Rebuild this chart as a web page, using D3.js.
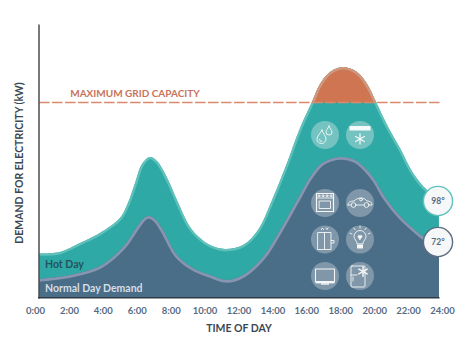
<!DOCTYPE html>
<html><head><meta charset="utf-8">
<script src="https://cdnjs.cloudflare.com/ajax/libs/d3/7.8.5/d3.min.js"></script>
<style>html,body{margin:0;padding:0;background:#fff}svg{display:block}text{font-family:Lato,"Open Sans",sans-serif}</style>
</head><body><svg id="c" width="474" height="355"></svg>
<script>
const tickLabels=["0:00","2:00","4:00","6:00","8:00","10:00","12:00","14:00","16:00","18:00","20:00","22:00","24:00"];
const hotHours=[0.24,1.47,2.65,3.83,5.01,5.48,5.90,6.31,6.78,7.19,7.55,7.96,8.37,9.14,9.73,10.32,11.20,12.27,13.15,13.98,14.86,15.63,16.33,16.81,17.40,18.16,18.99,19.58,20.11,20.82,21.52,22.29,23.12,23.82];
const hotDay=[44,45.5,54.5,64.5,79.5,94.5,114.5,133.5,140.5,136.5,127.5,113.5,97.5,70.5,59.5,52.5,48.5,52.5,67.5,97.5,134.5,169.5,195.5,213.5,225.5,230.5,225.5,213.5,195.5,170.5,149.5,124.5,107.5,100.5];
const normalHours=[0.24,2.06,3.83,5.19,6.01,6.43,6.72,7.08,7.55,8.37,9.32,10.32,11.32,12.27,13.44,14.45,15.45,16.22,16.92,17.99,18.87,19.58,20.05,20.64,21.52,22.41,23.0,23.82];
const normalDay=[18.5,22.5,31.5,50.5,70.5,79.5,81.5,78.5,67.5,42.5,29.5,22.5,17.5,22.5,40.5,67.5,97.5,120.5,134.5,140.5,137.5,127.5,117.5,100.5,81.5,67.5,59.5,54.5];
const gridCapacity=195;
const axisMax=273;
const scenarios=["98°","72°"];
const iconsTop=["drops","ac"];
const iconsBottom=[["oven","car"],["lift","bulb"],["tv","fridge"]];

const svg=d3.select("#c");
const x=d3.scaleLinear().domain([0,24]).range([35,442]);
const y=d3.scaleLinear().domain([0,axisMax]).range([297.5,24.5]);
const C={hot:"#2fa9a6",hotRim:"#5fc1ba",norm:"#4a6d88",rim:"#8795b0",orange:"#cf7551",orangeRim:"#dc9478",dash:"#d98a6c",label:"#c8735a",axis:"#4d4d4d",tick:"#566b82",title:"#3b4854"};
const hot=hotHours.map((h,i)=>({h,v:hotDay[i]})), norm=normalHours.map((h,i)=>({h,v:normalDay[i]}));
const curve=d3.curveCatmullRom.alpha(0.5);
const area=d3.area().x(d=>x(d.h)).y0(y(0)).y1(d=>y(d.v)).curve(curve);
const line=d3.line().x(d=>x(d.h)).y(d=>y(d.v)).curve(curve);
const defs=svg.append("defs");
defs.append("clipPath").attr("id","above").append("rect").attr("x",0).attr("y",0).attr("width",474).attr("height",y(gridCapacity));
defs.append("clipPath").attr("id","hotClip").append("path").attr("d",area(hot));
defs.append("clipPath").attr("id","normClip").append("path").attr("d",area(norm));

svg.append("path").attr("d",area(hot)).attr("fill",C.hot);
const overCap=svg.append("g").attr("clip-path","url(#above)");
overCap.append("path").attr("d",area(hot)).attr("fill",C.orange);
svg.append("g").attr("clip-path","url(#hotClip)").append("path").attr("d",line(hot)).attr("fill","none").attr("stroke",C.hotRim).attr("stroke-width",4.5);
const topRim=svg.append("g").attr("clip-path","url(#above)").append("g").attr("clip-path","url(#hotClip)");
topRim.append("path").attr("d",line(hot)).attr("fill","none").attr("stroke",C.orangeRim).attr("stroke-width",4.5);
svg.append("path").attr("d",area(norm)).attr("fill",C.norm);
svg.append("g").attr("clip-path","url(#normClip)").append("path").attr("d",line(norm)).attr("fill","none").attr("stroke",C.rim).attr("stroke-width",5.5);

svg.append("line").attr("x1",x(0.24)).attr("x2",439.5).attr("y1",y(gridCapacity)).attr("y2",y(gridCapacity)).attr("stroke",C.dash).attr("stroke-width",1.6).attr("stroke-dasharray","10.5 2.5");
svg.append("text").attr("x",135).attr("y",97).attr("text-anchor","middle").attr("font-size",10).attr("font-weight",700).attr("fill",C.label).text("MAXIMUM GRID CAPACITY");

svg.append("line").attr("x1",39).attr("x2",39).attr("y1",y(axisMax)).attr("y2",y(0)+1).attr("stroke",C.axis).attr("stroke-width",1.5);
svg.append("line").attr("x1",38).attr("x2",439.5).attr("y1",y(0)+0.3).attr("y2",y(0)+0.3).attr("stroke","#2e3a45").attr("stroke-width",1.4);

const tg=svg.append("g").attr("class","xaxis");
tg.call(d3.axisBottom(x).tickValues(d3.range(0,25,2)).tickFormat((d,i)=>tickLabels[i]).tickSize(0));
tg.select(".domain").remove();
tg.selectAll("text").attr("font-size",9.5).attr("font-weight",700).attr("fill",C.tick).attr("font-family","Lato,sans-serif").attr("dy",0).attr("y",314);

svg.append("text").attr("x",239).attr("y",332).attr("text-anchor","middle").attr("font-size",10.5).attr("font-weight",700).attr("fill",C.title).text("TIME OF DAY");
svg.append("text").attr("transform","translate(23,163) rotate(-90)").attr("text-anchor","middle").attr("font-size",10.5).attr("font-weight",700).attr("fill",C.title).text("DEMAND FOR ELECTRICITY (kW)");
svg.append("text").attr("x",45).attr("y",268).attr("font-size",10.5).attr("font-weight",700).attr("fill","#23545f").text("Hot Day");
svg.append("text").attr("x",45).attr("y",292).attr("font-size",10.5).attr("font-weight",700).attr("fill","#d6dee6").text("Normal Day Demand");

function flake(s,cx,cy,r,w){d3.range(3).forEach(i=>{const a=Math.PI/2+i*Math.PI/3;s.append("line").attr("x1",cx-r*Math.cos(a)).attr("y1",cy-r*Math.sin(a)).attr("x2",cx+r*Math.cos(a)).attr("y2",cy+r*Math.sin(a)).attr("stroke-width",w);});}
function icon(g,k){
 const s=g.append("g").attr("fill","none").attr("stroke","#fff").attr("stroke-width",0.9).attr("stroke-linecap","round").attr("stroke-linejoin","round").attr("opacity",0.92);
 if(k==="drops"){s.append("path").attr("d","M-3,-5 C-5,-1 -8,1 -8,4 A4.5,4.5 0 0 0 1,4 C1,1 -2,-1 -3,-5Z");s.append("path").attr("d","M4,-9 C3,-6 1,-5 1,-3 A3,3 0 0 0 7,-3 C7,-5 5,-6 4,-9Z");s.append("path").attr("d","M-5.5,4.5 A2,2 0 0 0 -3.5,6.5");}
 if(k==="ac"){s.append("rect").attr("x",-10.5).attr("y",-9).attr("width",21).attr("height",4.5).attr("fill","#fff").attr("stroke","none");flake(s,0,4,5,1.3);}
 if(k==="oven"){s.append("rect").attr("x",-8.5).attr("y",-9.5).attr("width",17).attr("height",18).attr("stroke-width",1.2);s.append("line").attr("x1",-8.5).attr("x2",8.5).attr("y1",-5).attr("y2",-5);s.append("rect").attr("x",-5.5).attr("y",-2).attr("width",11).attr("height",7.5);d3.range(4).forEach(i=>s.append("circle").attr("cx",-6+i*4).attr("cy",-7.2).attr("r",1));}
 if(k==="car"){s.append("path").attr("d","M-12,2 C-12,-1 -9,-2 -6,-2 C-2,-6 4,-6 7,-2 C10,-2 12,-0.5 12,2 L9,2 M4,2 L-4,2 M-9,2 L-12,2");s.append("circle").attr("cx",-6.5).attr("cy",2).attr("r",2.4);s.append("circle").attr("cx",6.5).attr("cy",2).attr("r",2.4);s.append("circle").attr("cx",1).attr("cy",-3.5).attr("r",1.4);}
 if(k==="lift"){s.append("rect").attr("x",-7).attr("y",-7).attr("width",13).attr("height",17);s.append("line").attr("x1",-0.5).attr("x2",-0.5).attr("y1",-7).attr("y2",10);s.append("path").attr("d","M-3.5,-10 L-2.5,-11.5 L-1.5,-10 M1,-11.5 L2,-10 L3,-11.5");s.append("path").attr("d","M6,1 L9,1 L9,3.5 L6,3.5");}
 if(k==="bulb"){s.append("path").attr("d","M-3,4 C-3,1 -6,0 -6,-3 A6,6 0 0 1 6,-3 C6,0 3,1 3,4Z");s.append("rect").attr("x",-3).attr("y",5).attr("width",6).attr("height",4).attr("fill","#fff").attr("stroke","none");s.append("path").attr("d","M-2,-3 A1,1 0 0 1 0,-3 A1,1 0 0 1 2,-3 L0,0Z").attr("fill","#fff");d3.range(5).forEach(i=>{const a=Math.PI*(1.1+i*0.2);s.append("line").attr("x1",8.5*Math.cos(a)).attr("y1",-3+8.5*Math.sin(a)).attr("x2",10.5*Math.cos(a)).attr("y2",-3+10.5*Math.sin(a));});}
 if(k==="tv"){s.append("rect").attr("x",-9.5).attr("y",-7).attr("width",19).attr("height",12.5).attr("stroke-width",1.1);s.append("rect").attr("x",-9.5).attr("y",5).attr("width",19).attr("height",2.4).attr("fill","#fff").attr("stroke","none");s.append("rect").attr("x",-4).attr("y",7).attr("width",8).attr("height",2).attr("fill","#fff").attr("stroke","none").attr("opacity",.7);}
 if(k==="fridge"){s.append("rect").attr("x",-9).attr("y",-10).attr("width",14).attr("height",21).attr("rx",1);s.append("line").attr("x1",-9).attr("x2",-3).attr("y1",-1).attr("y2",-1);s.append("line").attr("x1",-7).attr("x2",-7).attr("y1",1).attr("y2",5);flake(s,3,-4.5,4.8,1.5);}
}
function place(k,cx,cy,fill){const g=svg.append("g").attr("transform",`translate(${cx},${cy})`);g.append("circle").attr("r",14).attr("fill",fill);icon(g,k);}
iconsTop.forEach((k,i)=>place(k,325+35*i,135,"#74c3c1"));
iconsBottom.forEach((row,r)=>row.forEach((k,i)=>place(k,325+35*i,203+36.5*r,"#7f97a8")));

[[scenarios[0],438,201,"#5fc2bc"],[scenarios[1],438,242,"#5d6d80"]].forEach(([t,cx,cy,st])=>{
 svg.append("circle").attr("cx",cx).attr("cy",cy).attr("r",14.6).attr("fill","#f6f7f8").attr("stroke",st).attr("stroke-width",1.4);
 svg.append("text").attr("x",cx).attr("y",cy+3).attr("text-anchor","middle").attr("font-size",8.5).attr("font-weight",700).attr("fill","#566b82").text(t);
});
</script></body></html>
